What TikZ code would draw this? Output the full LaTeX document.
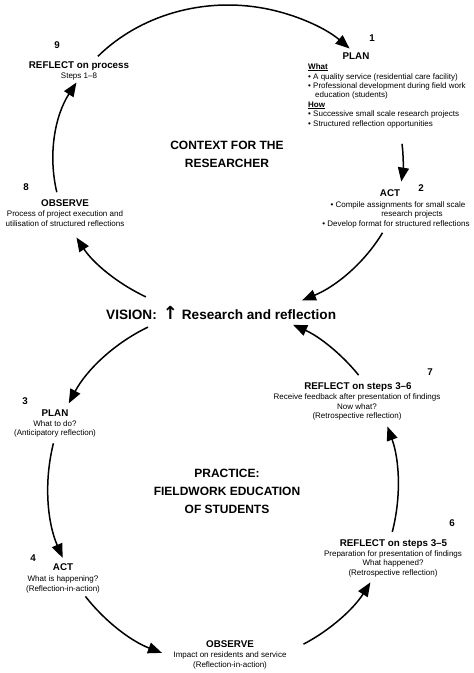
\documentclass[tikz,border=0pt]{standalone}
\usepackage{fontspec}
\setmainfont{Liberation Sans}
\newfontfamily\arrowfont{DejaVu Sans}
\usetikzlibrary{arrows.meta}
\begin{document}
\begin{tikzpicture}[x=1pt,y=-1pt,
  sm/.style={font=\fontsize{8}{9.6}\selectfont, inner sep=0pt, anchor=base},
  smw/.style={sm, anchor=base west},
  ttl/.style={font=\fontsize{9.8}{11}\selectfont\bfseries, inner sep=0pt, anchor=base},
  big/.style={font=\fontsize{12}{14}\selectfont\bfseries, inner sep=0pt, anchor=base},
  conn/.style={line width=1.5pt, -{Triangle[length=14pt,width=11pt]}}]
\useasboundingbox (0,0) rectangle (474,673);

% ---------- upper cycle: context for the researcher ----------
\node[ttl] (n9) at (57,48.5) {9};
\node[ttl] (r9t) at (79,68.5) {REFLECT on process};
\node[sm]  (r9a) at (79,78) {Steps 1--8};

\node[ttl] (n1) at (372,41.5) {1};
\node[ttl] (p1t) at (356,59.5) {PLAN};
\node[smw] (p1a) at (308,69) {\underline{\textbf{What}}};
\node[smw] (p1b) at (308,79) {• A quality service (residential care facility)};
\node[smw] (p1c) at (308,88) {• Professional development during field work};
\node[smw] (p1d) at (315,97) {education (students)};
\node[smw] (p1e) at (308,107) {\underline{\textbf{How}}};
\node[smw] (p1f) at (308,116) {• Successive small scale research projects};
\node[smw] (p1g) at (308,126) {• Structured reflection opportunities};

\node[ttl] (n2) at (421,191.5) {2};
\node[ttl] (a2t) at (390,196.5) {ACT};
\node[sm]  (a2a) at (398,207) {• Compile assignments for small scale};
\node[sm]  (a2b) at (412,216) {research projects};
\node[sm]  (a2c) at (396,226) {• Develop format for structured reflections};

\node[ttl] (n8) at (26,190.5) {8};
\node[ttl] (o8t) at (65,206.5) {OBSERVE};
\node[sm]  (o8a) at (65,216) {Process of project execution and};
\node[sm]  (o8b) at (65,226) {utilisation of structured reflections};

\node[big] (ctx1) at (227,149.3) {CONTEXT FOR THE};
\node[big] (ctx2) at (227,167.3) {RESEARCHER};

% ---------- vision ----------
\node[font=\fontsize{13.6}{16}\selectfont\bfseries, inner sep=0pt, anchor=base west]
  (vis) at (106,319) {VISION:\hspace{6pt}{\arrowfont\bfseries\fontsize{18}{18}\selectfont ↑}\hspace{4pt}Research and reflection};

% ---------- lower cycle: practice ----------
\node[ttl] (n3) at (25,404.5) {3};
\node[ttl] (p3t) at (55,416.5) {PLAN};
\node[sm]  (p3a) at (55,426) {What to do?};
\node[sm]  (p3b) at (55,435) {(Anticipatory reflection)};

\node[ttl] (n4) at (33,561.5) {4};
\node[ttl] (a4t) at (63,570.5) {ACT};
\node[sm]  (a4a) at (63,581) {What is happening?};
\node[sm]  (a4b) at (63,591) {(Reflection-in-action)};

\node[ttl] (o5t) at (230,647.5) {OBSERVE};
\node[sm]  (o5a) at (230,657.5) {Impact on residents and service};
\node[sm]  (o5b) at (230,667) {(Reflection-in-action)};

\node[ttl] (n6) at (452,526.5) {6};
\node[ttl] (r6t) at (393.5,546.5) {REFLECT on steps 3--5};
\node[sm]  (r6a) at (393,556) {Preparation for presentation of findings};
\node[sm]  (r6b) at (393,565) {What happened?};
\node[sm]  (r6c) at (393,575) {(Retrospective reflection)};

\node[ttl] (n7) at (430,375.5) {7};
\node[ttl] (r7t) at (358,389.5) {REFLECT on steps 3--6};
\node[sm]  (r7a) at (357,399) {Receive feedback after presentation of findings};
\node[sm]  (r7b) at (357,409) {Now what?};
\node[sm]  (r7c) at (357,418) {(Retrospective reflection)};

\node[big] (pr1) at (227,477.3) {PRACTICE:};
\node[big] (pr2) at (227,495.3) {FIELDWORK EDUCATION};
\node[big] (pr3) at (227,513.3) {OF STUDENTS};

% ---------- connectors (arcs of two ellipses) ----------
\coordinate (ctop) at (228,160);
\coordinate (cbot) at (223,487);

\path (ctop) ++(138:175pt and 155pt) coordinate (s91);
\path (ctop) ++(6:175pt and 155pt)   coordinate (s12);
\path (ctop) ++(-28:175pt and 155pt) coordinate (s2v);
\path (ctop) ++(-118:175pt and 155pt) coordinate (sv8);
\path (ctop) ++(-168:175pt and 155pt) coordinate (s89);

\draw[conn] (s91) arc[start angle=138, end angle=46, x radius=175pt, y radius=155pt];
\draw[conn] (s12) arc[start angle=6, end angle=-8, x radius=175pt, y radius=155pt];
\draw[conn] (s2v) arc[start angle=-28, end angle=-65, x radius=175pt, y radius=155pt];
\draw[conn] (sv8) arc[start angle=-118, end angle=-150, x radius=175pt, y radius=155pt];
\draw[conn] (s89) arc[start angle=-168, end angle=-210, x radius=175pt, y radius=155pt];

\path (cbot) ++(115.4:175pt and 177pt) coordinate (sv3);
\path (cbot) ++(165.7:175pt and 177pt) coordinate (s34);
\path (cbot) ++(218.2:175pt and 177pt) coordinate (s45);
\path (cbot) ++(297.4:175pt and 177pt) coordinate (s56);
\path (cbot) ++(345.3:175pt and 177pt) coordinate (s67);
\path (cbot) ++(39.2:175pt and 177pt)  coordinate (s7v);

\draw[conn] (sv3) arc[start angle=115.4, end angle=151.8, x radius=175pt, y radius=177pt];
\draw[conn] (s34) arc[start angle=165.7, end angle=203.6, x radius=175pt, y radius=177pt];
\draw[conn] (s45) arc[start angle=218.2, end angle=249.6, x radius=175pt, y radius=177pt];
\draw[conn] (s56) arc[start angle=297.4, end angle=327.4, x radius=175pt, y radius=177pt];
\draw[conn] (s67) arc[start angle=345.3, end angle=380, x radius=175pt, y radius=177pt];
\draw[conn] (s7v) arc[start angle=39.2, end angle=66.4, x radius=175pt, y radius=177pt];
\end{tikzpicture}
\end{document}
